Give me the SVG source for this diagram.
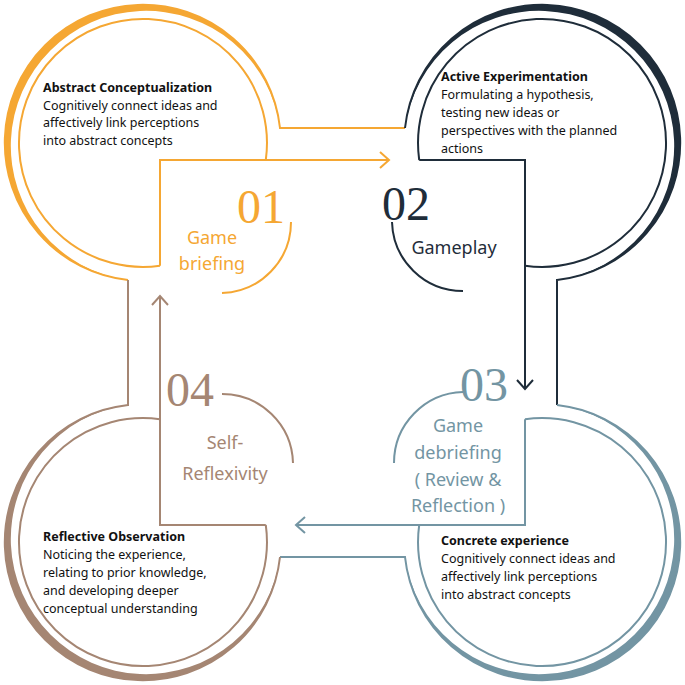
<svg xmlns="http://www.w3.org/2000/svg" xmlns:xlink="http://www.w3.org/1999/xlink" width="685" height="685" viewBox="0 0 685 685">
<style>
.thin{fill:none;stroke-width:2}
.body{font-family:"Noto Sans","DejaVu Sans",sans-serif;font-size:12.5px;fill:#111}
.ttl{font-weight:bold}
.num{font-family:"Liberation Serif",serif;font-size:48px}
.lab{font-family:"Noto Sans","DejaVu Sans",sans-serif;font-size:18px;text-anchor:middle}
</style>
<defs>
<g id="q">
<path d="M128,280 A138,138 0 1 1 280,128 A135.2,135.2 0 1 0 128,280 Z" stroke="none"/>
<path class="thin" d="M128,280 A138,138 0 1 1 280,128 L405,128"/>
<path class="thin" d="M160,265.8 A124,124 0 1 1 265.8,160"/>
<path class="thin" d="M160,265.8 L160,160 L389,160 M380,152 L389,160 L380,168"/>
<path class="thin" d="M291,222 A71,71 0 0 1 222,293"/>
</g>
</defs>
<g id="connectors">
<use id="q1" xlink:href="#q" fill="#f5a733" stroke="#f5a733"/>
<use id="q2" xlink:href="#q" fill="#1f2d3a" stroke="#1f2d3a" transform="rotate(90 342.5 342.5)"/>
<use id="q3" xlink:href="#q" fill="#7395a3" stroke="#7395a3" transform="rotate(180 342.5 342.5)"/>
<use id="q4" xlink:href="#q" fill="#a58673" stroke="#a58673" transform="rotate(270 342.5 342.5)"/>
</g>
<g id="n1">
<text class="body" x="43" y="92"><tspan class="ttl">Abstract Conceptualization</tspan><tspan x="43" dy="17.5">Cognitively connect ideas and</tspan><tspan x="43" dy="17.5">affectively link perceptions</tspan><tspan x="43" dy="17.5">into abstract concepts</tspan></text>
<text class="num" x="237" y="223" fill="#f5a733">01</text>
<text class="lab" x="212" y="244" fill="#f5a733">Game</text>
<text class="lab" x="212" y="270" fill="#f5a733">briefing</text>
</g>
<g id="n2">
<text class="body" x="441" y="81"><tspan class="ttl">Active Experimentation</tspan><tspan x="441" dy="18">Formulating a hypothesis,</tspan><tspan x="441" dy="18">testing new ideas or</tspan><tspan x="441" dy="18">perspectives  with the planned</tspan><tspan x="441" dy="18">actions</tspan></text>
<text class="num" x="382" y="220" fill="#1f2d3a">02</text>
<text class="lab" x="454" y="254" fill="#1f2d3a">Gameplay</text>
</g>
<g id="n3">
<text class="body" x="441" y="545"><tspan class="ttl">Concrete experience</tspan><tspan x="441" dy="18">Cognitively connect ideas and</tspan><tspan x="441" dy="18">affectively link perceptions</tspan><tspan x="441" dy="18">into abstract concepts</tspan></text>
<text class="num" x="460" y="401" fill="#7395a3">03</text>
<text class="lab" x="458" y="432" fill="#7395a3">Game</text>
<text class="lab" x="458" y="459" fill="#7395a3">debriefing</text>
<text class="lab" x="458" y="486" fill="#7395a3">( Review &amp;</text>
<text class="lab" x="458" y="512" fill="#7395a3">Reflection )</text>
</g>
<g id="n4">
<text class="body" x="43" y="541"><tspan class="ttl">Reflective Observation</tspan><tspan x="43" dy="18">Noticing the experience,</tspan><tspan x="43" dy="18">relating to prior knowledge,</tspan><tspan x="43" dy="18">and developing deeper</tspan><tspan x="43" dy="18">conceptual understanding</tspan></text>
<text class="num" x="166" y="406" fill="#a58673">04</text>
<text class="lab" x="225" y="449" fill="#a58673">Self-</text>
<text class="lab" x="225" y="480" fill="#a58673">Reflexivity</text>
</g>
</svg>
